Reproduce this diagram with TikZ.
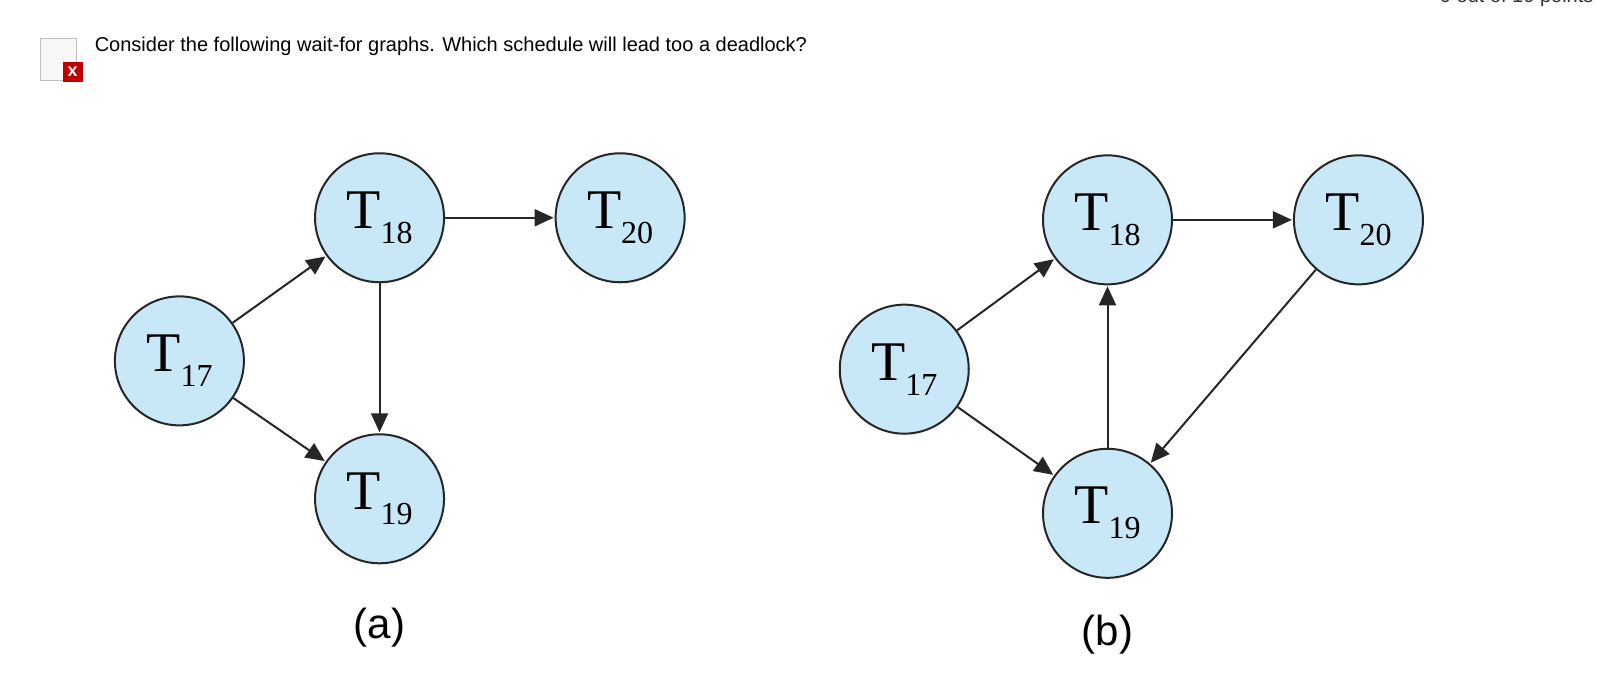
\documentclass[tikz,border=0pt]{standalone}
\usepackage{fontspec}
\setmainfont{Liberation Serif}
\newfontfamily\arial{Liberation Sans}
\usetikzlibrary{arrows.meta}
\definecolor{nodeblue}{RGB}{200,232,248}
\begin{document}
\begin{tikzpicture}[x=1.037pt,y=-1.037pt,
  tn/.style={circle,draw=black!85,line width=2pt,fill=nodeblue,minimum size=129pt,inner sep=0pt,font=\fontsize{56}{56}\selectfont},
  ed/.style={line width=2pt,draw=black!85,-{Triangle[length=19pt,width=17pt]},shorten >=1pt},
  lab/.style={font=\arial\fontsize{42}{42}\selectfont}]
\useasboundingbox (0,0) rectangle (1560.3,675);
\newcommand{\tsub}[1]{T\raisebox{-15pt}{\fontsize{32}{32}\selectfont #1}}
% header
\node[anchor=west,font=\arial\fontsize{20}{20}\selectfont] (q) at (88,45) {Consider the following wait-for graphs. Which schedule will lead too a deadlock?};
\node[anchor=east,font=\arial\fontsize{20}{20}\selectfont,text=black!80] (pts) at (1540,-3) {0 out of 10 points};
\node[draw=black!25,fill=black!3,minimum width=36pt,minimum height=42pt,inner sep=0pt] (ic) at (56,57) {};
\node[fill=red!75!black,text=white,minimum size=20pt,inner sep=0pt,font=\arial\bfseries\fontsize{18}{18}\selectfont] (x) at (70,69) {x};
% graph a
\node[tn] (a17) at (173,348) {\tsub{17}};
\node[tn] (a18) at (366,210) {\tsub{18}};
\node[tn] (a20) at (598,210) {\tsub{20}};
\node[tn] (a19) at (366,481) {\tsub{19}};
\draw[ed] (a17) -- (a18);
\draw[ed] (a17) -- (a19);
\draw[ed] (a18) -- (a20);
\draw[ed] (a18) -- (a19);
\node[lab] (la) at (366,605) {(a)};
% graph b
\node[tn] (b17) at (872,356) {\tsub{17}};
\node[tn] (b18) at (1068,212) {\tsub{18}};
\node[tn] (b20) at (1310,212) {\tsub{20}};
\node[tn] (b19) at (1068,495) {\tsub{19}};
\draw[ed] (b17) -- (b18);
\draw[ed] (b17) -- (b19);
\draw[ed] (b18) -- (b20);
\draw[ed] (b19) -- (b18);
\draw[ed] (b20) -- (b19);
\node[lab] (lb) at (1068,612) {(b)};
\end{tikzpicture}
\end{document}
